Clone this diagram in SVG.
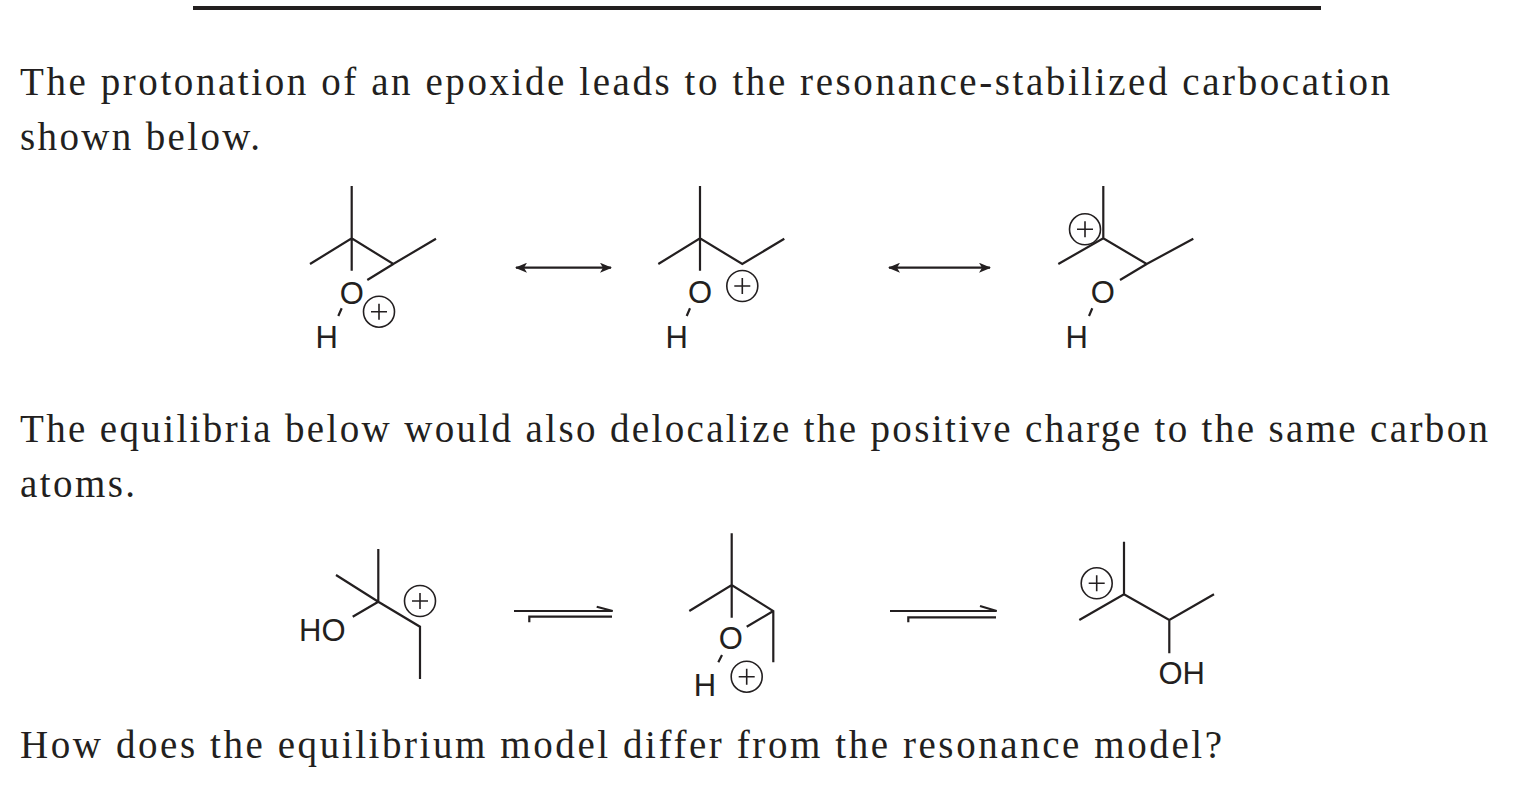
<svg xmlns="http://www.w3.org/2000/svg" width="1528" height="790" viewBox="0 0 1528 790">
<style>
.t{font-family:"Liberation Serif",serif;font-size:39px;fill:#231f20}
.a{font-family:"Liberation Sans",Arial,sans-serif;font-size:31px;fill:#231f20}
.b{stroke:#231f20;stroke-width:2.2;fill:none;stroke-linecap:butt}
.c{stroke:#231f20;stroke-width:1.6;fill:none}
</style>
<defs>
<marker id="ah" viewBox="0 0 12 10" refX="11" refY="5" markerWidth="12" markerHeight="10" markerUnits="userSpaceOnUse" orient="auto-start-reverse"><path d="M0,0 L12,5 L0,10 L3,5 Z" fill="#231f20"/></marker>
<g id="plus"><circle r="15.5" class="c"/><path d="M-8,0H8M0,-8V8" class="c"/></g>
</defs>
<rect x="193" y="6" width="1128" height="4" fill="#231f20"/>
<g id="text">
<text class="t" x="20" y="95" textLength="1370">The protonation of an epoxide leads to the resonance-stabilized carbocation</text>
<text class="t" x="20" y="150" textLength="240">shown below.</text>
<text class="t" x="20" y="442" textLength="1468">The equilibria below would also delocalize the positive charge to the same carbon</text>
<text class="t" x="20" y="497" textLength="115">atoms.</text>
<text class="t" x="20" y="758" textLength="1202">How does the equilibrium model differ from the resonance model?</text>
</g>
<g id="connectors">
<line x1="516" y1="267.7" x2="611" y2="267.7" class="b" marker-start="url(#ah)" marker-end="url(#ah)"/>
<line x1="889" y1="267.7" x2="990" y2="267.7" class="b" marker-start="url(#ah)" marker-end="url(#ah)"/>
<path d="M514,611H612.7L596.7,606.7M612,616.7H529.3L529.3,622.3" class="b"/>
<path d="M890,611H996.7L980,606M996,617.3H908.3L908.3,622.3" class="b"/>
</g>
<g id="m1">
<path d="M351.7,186V270.7M310,264L351.7,238.3L393.3,264L436,238.7M393.3,264L367.3,280M338.3,316L341.7,308.3" class="b"/>
<text class="a" x="351.7" y="304" text-anchor="middle">O</text>
<text class="a" x="326.7" y="348" text-anchor="middle">H</text>
<use href="#plus" x="379" y="311.7"/>
</g>
<g id="m2">
<path d="M700,186V270.7M658.3,264L700,238.3L742.3,264L784.3,238.7M686.7,316L690,308.3" class="b"/>
<text class="a" x="700" y="303" text-anchor="middle">O</text>
<text class="a" x="676.7" y="348" text-anchor="middle">H</text>
<use href="#plus" x="742.3" y="286"/>
</g>
<g id="m3">
<path d="M1103.3,186V238.3M1058.3,264L1103.3,238.3L1146.7,264L1193.3,238.7M1146.7,264L1120,280M1089,316L1092.3,308.3" class="b"/>
<text class="a" x="1102.7" y="303" text-anchor="middle">O</text>
<text class="a" x="1076.7" y="348" text-anchor="middle">H</text>
<use href="#plus" x="1085" y="229.3"/>
</g>
<g id="m4">
<path d="M378.3,549V601.7M336,575L378.3,601.7L420,626.7V679M378.3,601.7L352.7,616.7" class="b"/>
<text class="a" x="322.3" y="641" text-anchor="middle">HO</text>
<use href="#plus" x="420" y="601"/>
</g>
<g id="m5">
<path d="M731.7,533.3V617.7M689.3,611L731.7,585L773.3,611V662.3M773.3,611L746.7,626.7M718.3,662.3L722,655" class="b"/>
<text class="a" x="730.7" y="649" text-anchor="middle">O</text>
<text class="a" x="705" y="696" text-anchor="middle">H</text>
<use href="#plus" x="746.7" y="676.7"/>
</g>
<g id="m6">
<path d="M1124,541.7V594.3M1079.3,620L1124,594.3L1169.3,620L1214,594.3M1169.3,620V653.3" class="b"/>
<text class="a" x="1181.7" y="684" text-anchor="middle">OH</text>
<use href="#plus" x="1096.7" y="583.3"/>
</g>
</svg>
